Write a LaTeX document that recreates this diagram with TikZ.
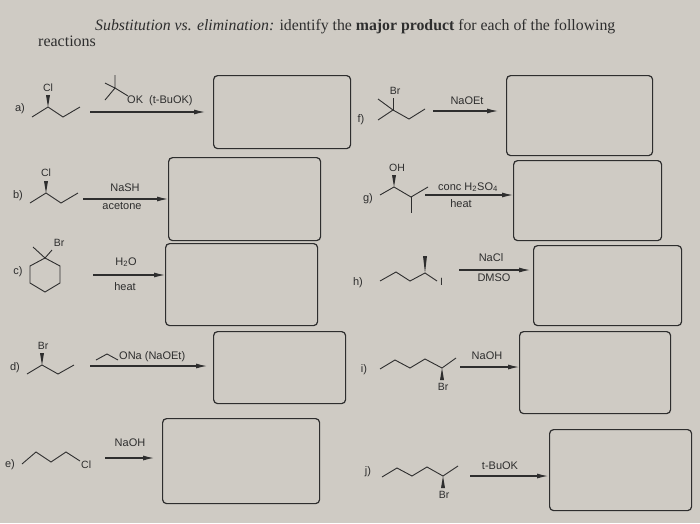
\documentclass[tikz,border=0pt]{standalone}
\usepackage{fontspec}
\setmainfont{Liberation Sans}
\newfontfamily\ttl{Liberation Serif}
\usetikzlibrary{arrows.meta}
\definecolor{ink}{HTML}{2E2E2E}
\definecolor{paper}{HTML}{CFCBC4}
\begin{document}
\begin{tikzpicture}[x=1pt,y=-1pt,
  ansbox/.style={draw=ink,line width=1.2pt,rounded corners=4pt},
  rxn/.style={draw=ink,line width=1.1pt,-{Latex[length=11pt,width=5pt]}},
  bond/.style={draw=ink,line width=0.9pt},
  lab/.style={text=ink,font=\fontsize{11}{12}\selectfont,inner sep=0pt},
  reag/.style={text=ink,font=\fontsize{11}{12}\selectfont,inner sep=0pt},
  atom/.style={text=ink,font=\fontsize{10.5}{11}\selectfont,inner sep=0pt},
  wedge/.style={fill=ink}]
\fill[paper] (0,0) rectangle (700,523);
\useasboundingbox (0,0) rectangle (700,523);
% title
\node[anchor=base west,inner sep=0pt,text=ink,font=\ttl\fontsize{15.8}{16}\selectfont] (t1) at (95,30)
 {\textit{Substitution vs. elimination:} identify the \textbf{major product} for each of the following};
\node[anchor=base west,inner sep=0pt,text=ink,font=\ttl\fontsize{16}{16}\selectfont] (t2) at (38,46) {reactions};
% boxes
\node[ansbox,minimum width=137,minimum height=73,anchor=north west] (ba) at (213,75) {};
\node[ansbox,minimum width=152,minimum height=83,anchor=north west] (bb) at (168,157) {};
\node[ansbox,minimum width=152,minimum height=82,anchor=north west] (bc) at (165,243) {};
\node[ansbox,minimum width=132,minimum height=72,anchor=north west] (bd) at (213,331) {};
\node[ansbox,minimum width=157,minimum height=85,anchor=north west] (be) at (162,418) {};
\node[ansbox,minimum width=146,minimum height=80,anchor=north west] (bf) at (506,75) {};
\node[ansbox,minimum width=148,minimum height=80,anchor=north west] (bg) at (513,160) {};
\node[ansbox,minimum width=148,minimum height=80,anchor=north west] (bh) at (533,245) {};
\node[ansbox,minimum width=151,minimum height=82,anchor=north west] (bi) at (519,331) {};
\node[ansbox,minimum width=142,minimum height=81,anchor=north west] (bj) at (549,429) {};
% arrows
\coordinate (sa) at (90,112); \draw[rxn] (sa) -- (205,112);
\coordinate (sb) at (83,199); \draw[rxn] (sb) -- (bb.west|-sb);
\coordinate (sc) at (93,275); \draw[rxn] (sc) -- (bc.west|-sc);
\coordinate (sd) at (90,366); \draw[rxn] (sd) -- (207,366);
\coordinate (se) at (105,458); \draw[rxn] (se) -- (154,458);
\coordinate (sf) at (433,111); \draw[rxn] (sf) -- (498,111);
\coordinate (sg) at (425,195); \draw[rxn] (sg) -- (bg.west|-sg);
\coordinate (sh) at (459,270); \draw[rxn] (sh) -- (530,270);
\coordinate (si) at (460,367); \draw[rxn] (si) -- (bi.west|-si);
\coordinate (sj) at (470,476); \draw[rxn] (sj) -- (548,476);
% reagents
\draw[bond] (105,83) -- (115,88) -- (115,75); \draw[bond] (105,100) -- (115,88) -- (128,96);
\node[reag,anchor=west] (ra) at (127,101) {OK\ \ (t-BuOK)};
\node[reag] (rb1) at (125,188) {NaSH};
\node[reag] (rb2) at (122,206) {acetone};
\node[reag] (rc1) at (126,262) {H\textsubscript{2}O};
\node[reag] (rc2) at (125,287) {heat};
\draw[bond] (96,360) -- (107,354) -- (118,360);
\node[reag,anchor=west] (rd) at (119,357) {ONa (NaOEt)};
\node[reag] (re) at (130,443) {NaOH};
\node[reag] (rf) at (467,101) {NaOEt};
\node[reag] (rg1) at (468,187) {conc H\textsubscript{2}SO\textsubscript{4}};
\node[reag] (rg2) at (461,204) {heat};
\node[reag] (rh1) at (491,258) {NaCl};
\node[reag] (rh2) at (494,278) {DMSO};
\node[reag] (ri) at (487,356) {NaOH};
\node[reag] (rj) at (500,466) {t-BuOK};
% letters
\node[lab] (la) at (20,109) {a)};
\node[lab] (lb) at (18,196) {b)};
\node[lab] (lc) at (18,272) {c)};
\node[lab] (ld) at (15,368) {d)};
\node[lab] (le) at (10,465) {e)};
\node[lab] (lf) at (361,120) {f)};
\node[lab] (lg) at (368,199) {g)};
\node[lab] (lh) at (358,283) {h)};
\node[lab] (li) at (364,370) {i)};
\node[lab] (lj) at (368,472) {j)};
% a
\draw[bond] (32,117) -- (48,107) -- (63,117) -- (80,107);
\fill[wedge] (48,107) -- (46,95) -- (50,95) -- cycle;
\node[atom] (cla) at (48,88) {Cl};
% b
\draw[bond] (30,203) -- (46,193) -- (61,203) -- (78,193);
\fill[wedge] (46,193) -- (44,181) -- (48,181) -- cycle;
\node[atom] (clb) at (46,173) {Cl};
% c
\draw[bond] (45,258) -- (60,266) -- (60,283) -- (45,292) -- (30,283) -- (30,266) -- cycle;
\draw[bond] (45,258) -- (33,247); \draw[bond] (45,258) -- (52,250);
\node[atom] (brc) at (59,243) {Br};
% d
\draw[bond] (27,374) -- (42,365) -- (58,374) -- (74,365);
\fill[wedge] (42,365) -- (40,353) -- (44,353) -- cycle;
\node[atom] (brd) at (43,346) {Br};
% e
\draw[bond] (22,464) -- (36,452) -- (51,462) -- (66,452) -- (80,461);
\node[atom,anchor=west] (cle) at (81,465) {Cl};
% f
\draw[bond] (378,99) -- (393,110) -- (378,120); \draw[bond] (393,110) -- (409,119) -- (425,109);
\draw[bond] (393,110) -- (393,98);
\node[atom] (brf) at (395,91) {Br};
% g
\draw[bond] (380,195) -- (394,187) -- (411,197) -- (428,187); \draw[bond] (411,197) -- (411,213);
\fill[wedge] (394,187) -- (392,175) -- (396,175) -- cycle;
\node[atom] (ohg) at (397,168) {OH};
% h
\draw[bond] (380,281) -- (396,272) -- (410,281) -- (425,273) -- (437,281);
\fill[wedge] (425,273) -- (423,256) -- (427,256) -- cycle;
\node[atom,anchor=west] (ih) at (440,282) {I};
% i
\draw[bond] (380,369) -- (395,360) -- (410,368) -- (425,359) -- (442,368) -- (456,358);
\fill[wedge] (442,368) -- (440,380) -- (444,380) -- cycle;
\node[atom] (bri) at (443,387) {Br};
% j
\draw[bond] (382,477) -- (397,468) -- (412,476) -- (427,467) -- (443,476) -- (458,466);
\fill[wedge] (443,476) -- (441,488) -- (445,488) -- cycle;
\node[atom] (brj) at (444,495) {Br};
\end{tikzpicture}
\end{document}
